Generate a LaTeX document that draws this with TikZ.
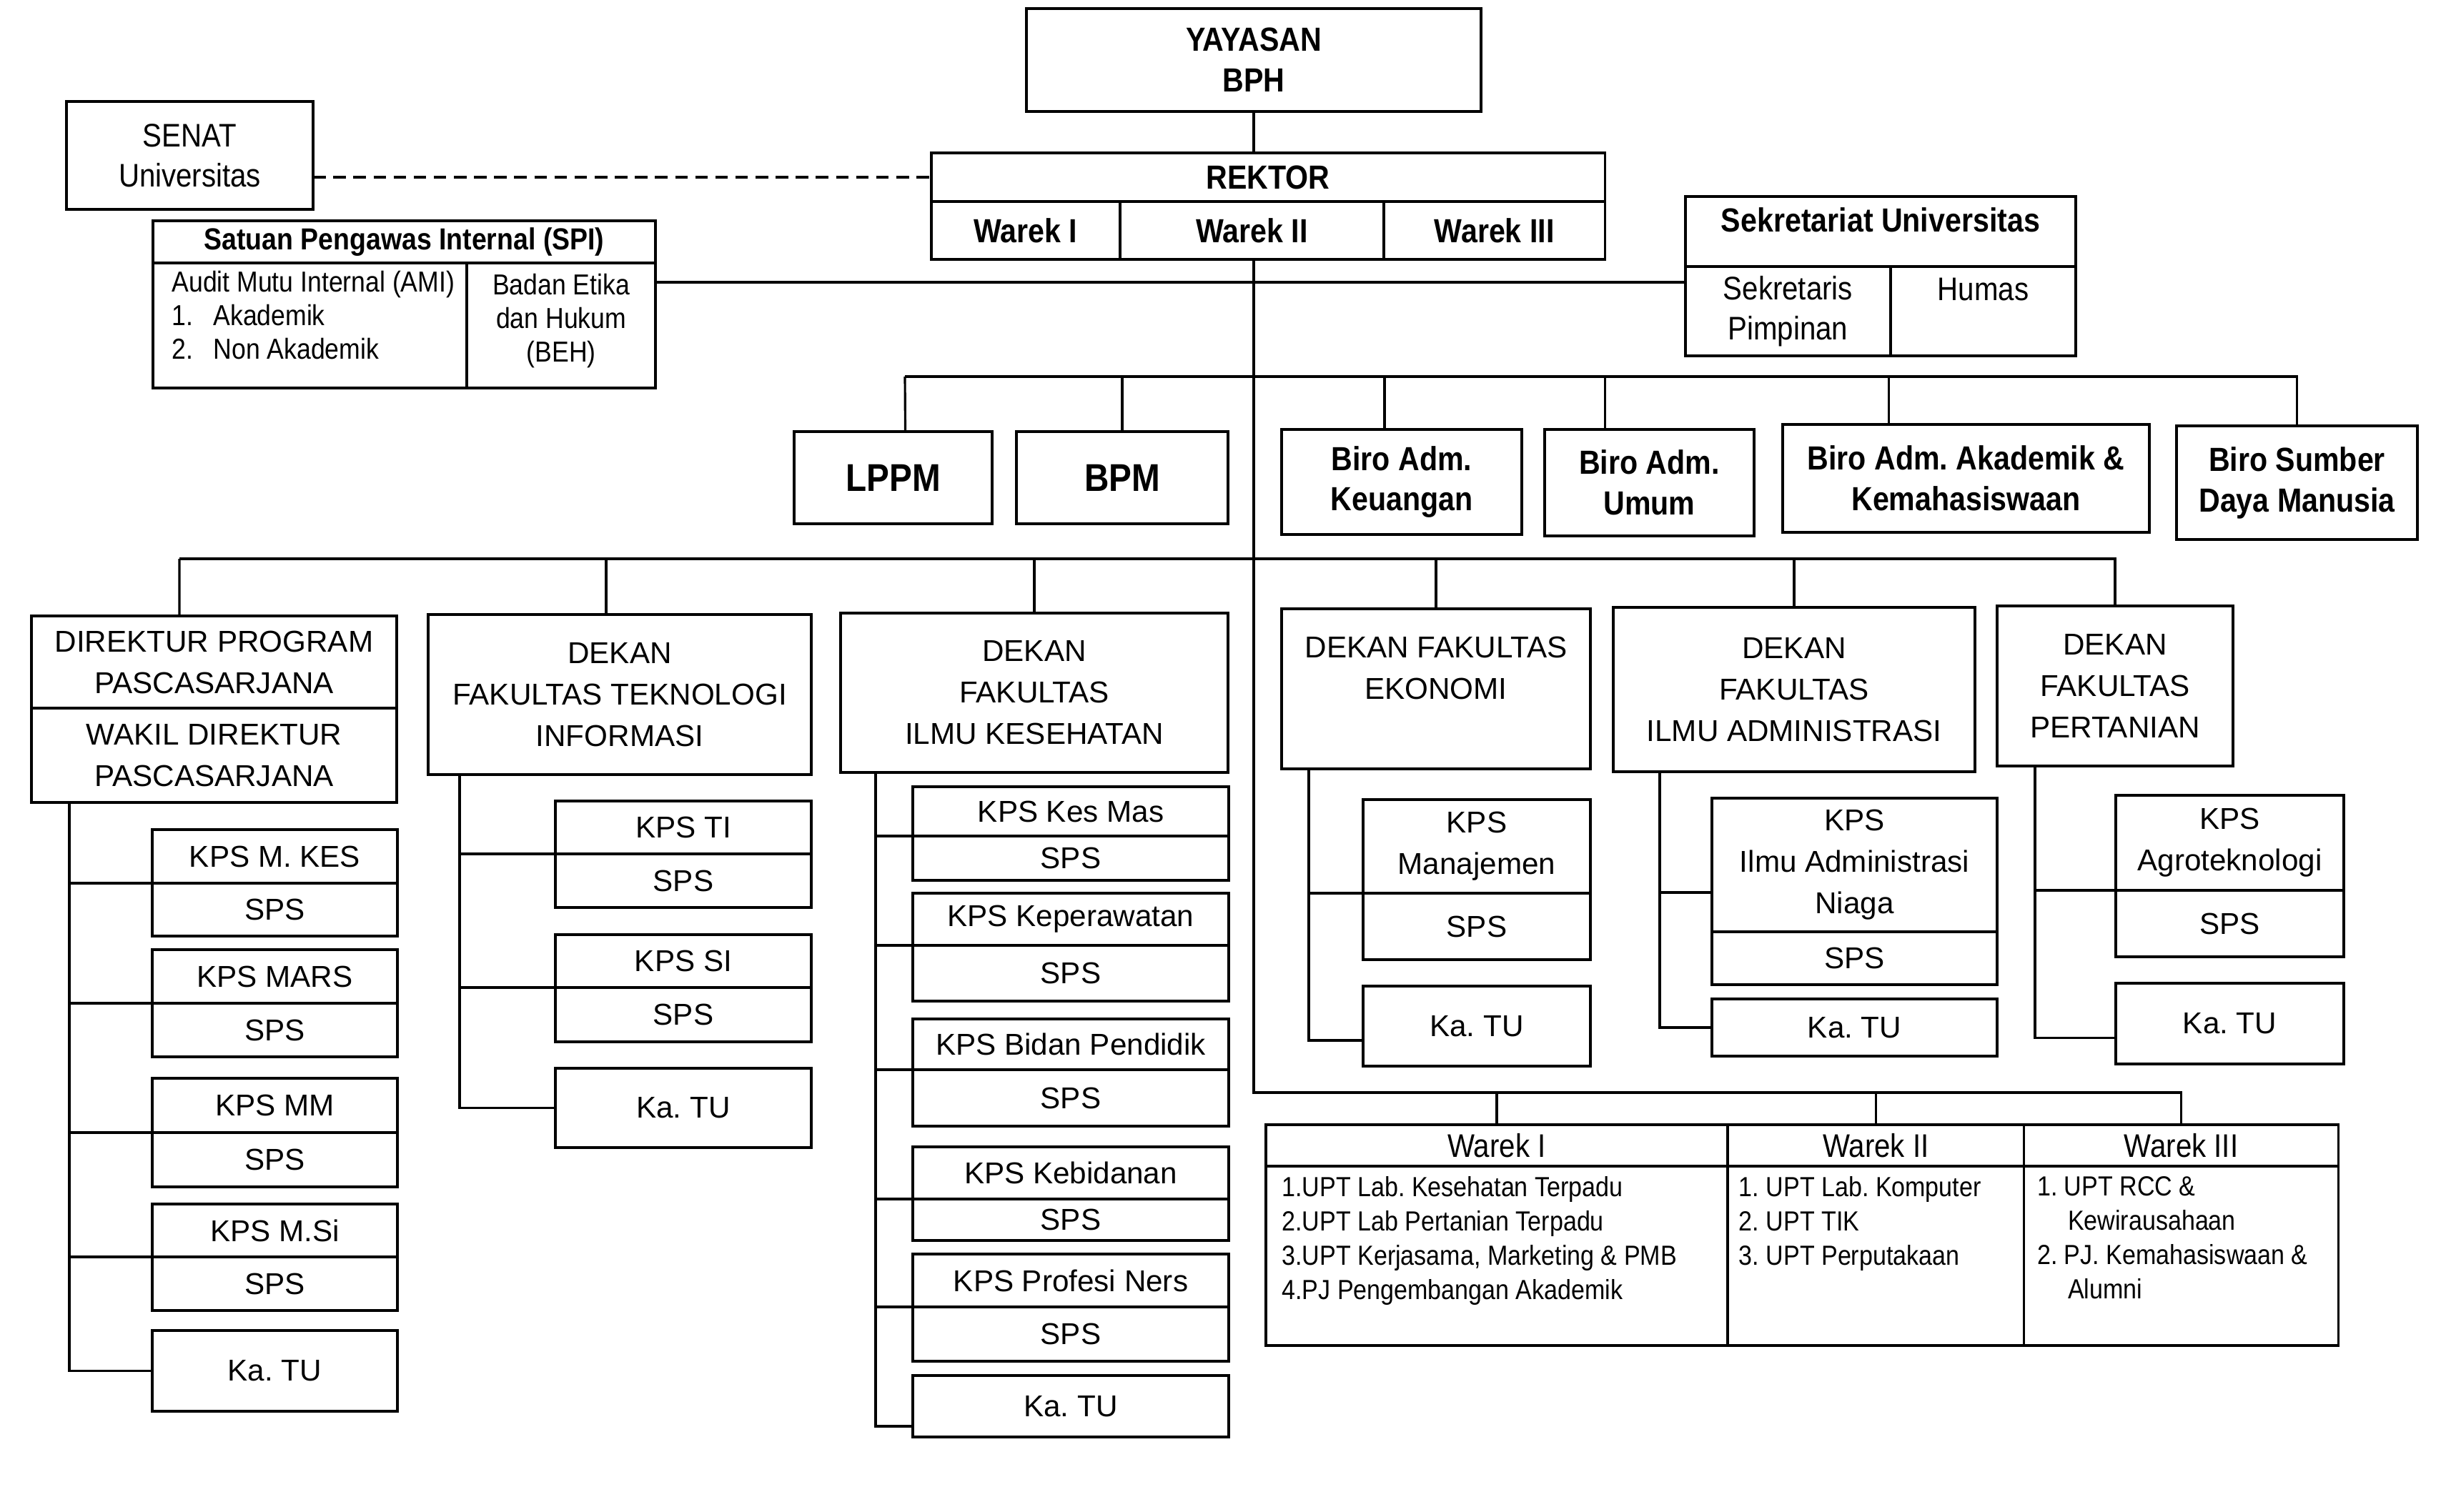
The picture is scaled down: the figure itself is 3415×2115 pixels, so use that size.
\documentclass[tikz,border=0pt]{standalone}
\usepackage{fontspec}
\setmainfont{Liberation Sans}
\newfontfamily\narrowfont[FakeStretch=0.88]{Liberation Sans}
\usepackage{tikz}
\usetikzlibrary{positioning}
\frenchspacing

\begin{document}
\begin{tikzpicture}[x=0.01cm, y=-0.01cm,
        box/.style={draw, line width=1pt, inner sep=0pt, outer sep=0pt, align=center},
        conn/.style={line width=0.9pt},
        headtxt/.style={font=\narrowfont\bfseries\fontsize{13.3}{16.2}\selectfont},
        bigtxt/.style={font=\narrowfont\bfseries\fontsize{15.4}{18}\selectfont},
        narrowtxt/.style={font=\narrowfont\fontsize{13}{16}\selectfont},
        smalltxt/.style={font=\narrowfont\fontsize{11.5}{13.5}\selectfont, inner sep=0pt},
        listtxt/.style={font=\narrowfont\fontsize{11}{13.6}\selectfont, align=left, inner sep=0pt},
        fak/.style={font=\fontsize{12}{16.5}\selectfont},
        wpas/.style={box, fak, minimum width=3.43cm},
        wfti/.style={box, fak, minimum width=3.58cm},
        wfik/.style={box, fak, minimum width=4.42cm},
        wfe/.style={box, fak, minimum width=3.18cm},
        wfia/.style={box, fak, minimum width=3.99cm},
        wfp/.style={box, fak, minimum width=3.19cm}]
        \useasboundingbox (0,0) rectangle (3415,2115);

        \node[box, headtxt, minimum width=6.36cm, minimum height=1.44cm] (yay) at (1754,84) {YAYASAN\\BPH};
        \node[box, narrowtxt, minimum width=3.45cm, minimum height=1.51cm] (senat) at (265.5,217.5) {SENAT\\Universitas};
        \node[box, headtxt, minimum width=9.42cm, minimum height=0.68cm] (rek) at (1774,248) {REKTOR};
        \node[box, headtxt, minimum width=2.64cm, minimum height=0.81cm, anchor=north west] (wr1) at (rek.south west) {Warek I};
        \node[box, headtxt, minimum width=3.69cm, minimum height=0.81cm, right=0pt of wr1] (wr2) {Warek II};
        \node[box, headtxt, minimum width=3.09cm, minimum height=0.81cm, right=0pt of wr2] (wr3) {Warek III};

        \node[box, font=\narrowfont\bfseries\fontsize{12.1}{14}\selectfont, minimum width=7.03cm, minimum height=0.59cm] (spi) at (565.5,338.5) {Satuan Pengawas Internal (SPI)};
        \node[box, minimum width=4.39cm, minimum height=1.75cm, anchor=north west] (ami) at (spi.south west) {};
        \node[box, minimum width=2.64cm, minimum height=1.75cm, right=0pt of ami] (beh) {};
        \node[smalltxt, align=left, anchor=north west] (amitxt) at ([xshift=0.26cm, yshift=-0.1cm]ami.north west)
          {Audit Mutu Internal (AMI)\\\makebox[0.58cm][l]{1.}Akademik\\\makebox[0.58cm][l]{2.}Non Akademik};
        \node[smalltxt, align=center, anchor=north] (behtxt) at ([yshift=-0.14cm]beh.north) {Badan Etika\\dan Hukum\\(BEH)};

        \node[box, minimum width=5.46cm, minimum height=0.98cm] (sekr) at (2631,324) {};
        \node[headtxt, anchor=north, inner sep=0pt] (sekrtxt) at ([yshift=-0.15cm]sekr.north) {Sekretariat Universitas};
        \node[box, narrowtxt, minimum width=2.87cm, minimum height=1.25cm, anchor=north west] (sekp) at (sekr.south west) {Sekretaris\\Pimpinan};
        \node[box, minimum width=2.59cm, minimum height=1.25cm, right=0pt of sekp] (humas) {};
        \node[narrowtxt, anchor=north, inner sep=0pt] (humastxt) at ([yshift=-0.15cm]humas.north) {Humas};

        \draw[conn] (yay.south) -- (yay.south |- rek.north);
        \draw[conn, dash pattern=on 5pt off 3pt] (senat.east |- rek.west) -- (rek.west);
        \coordinate (spiout) at ([yshift=-0.27cm]beh.north east);
        \draw[conn] (spiout) -- (spiout -| sekp.west);

        \node[box, bigtxt, minimum width=2.77cm, minimum height=1.29cm] (lppm) at (1249.5,668.5) {LPPM};
        \node[box, bigtxt, minimum width=2.96cm, minimum height=1.29cm] (bpm) at (1570,668.5) {BPM};
        \node[box, headtxt, minimum width=3.36cm, minimum height=1.47cm] (keu) at (1961,674.5) {Biro Adm.\\Keuangan};
        \node[box, headtxt, minimum width=2.93cm, minimum height=1.49cm] (umum) at (2307.5,675.5) {Biro Adm.\\Umum};
        \node[box, headtxt, minimum width=5.13cm, minimum height=1.51cm] (akad) at (2750.5,669.5) {Biro Adm. Akademik \&\\Kemahasiswaan};
        \node[box, headtxt, minimum width=3.37cm, minimum height=1.59cm] (sdm) at (3213.5,675.5) {Biro Sumber\\Daya Manusia};

        \coordinate (bbus) at (1266,527);
        \draw[conn] ([xshift=0.17cm]lppm.north) -- (bbus);
        \draw[conn] (sdm.north) |- (bbus);
        \draw[conn] (bpm.north) |- (bbus);
        \draw[conn] ([xshift=-0.24cm]keu.north) |- (bbus);
        \draw[conn] ([xshift=-0.62cm]umum.north) |- (bbus);
        \draw[conn] ([xshift=-1.08cm]akad.north) |- (bbus);

        \node[box, fak, minimum width=5.11cm, minimum height=1.29cm] (pas1) at (299.5,926.5) {DIREKTUR PROGRAM\\PASCASARJANA};
        \node[box, fak, minimum width=5.11cm, minimum height=1.32cm, below=0pt of pas1] (pas2) {WAKIL DIREKTUR\\PASCASARJANA};
        \node[box, fak, minimum width=5.36cm, minimum height=2.24cm] (fti) at (867,972) {DEKAN\\FAKULTAS TEKNOLOGI\\INFORMASI};
        \node[box, fak, minimum width=5.42cm, minimum height=2.23cm] (fik) at (1447,969.5) {DEKAN\\FAKULTAS\\ILMU KESEHATAN};
        \node[box, fak, minimum width=4.32cm, minimum height=2.24cm] (fe) at (2009,964) {DEKAN FAKULTAS\\EKONOMI\\~};
        \node[box, fak, minimum width=5.06cm, minimum height=2.30cm] (fia) at (2510,965) {DEKAN\\FAKULTAS\\ILMU ADMINISTRASI};
        \node[box, fak, minimum width=3.30cm, minimum height=2.24cm] (fp) at (2959,960) {DEKAN\\FAKULTAS\\PERTANIAN};

        \coordinate (fbus) at (251,782);
        \draw[conn] ([xshift=-0.485cm]pas1.north) -- (fbus);
        \draw[conn] (fp.north) |- (fbus);
        \draw[conn] ([xshift=-0.19cm]fti.north) |- (fbus);
        \draw[conn] (fik.north) |- (fbus);
        \draw[conn] (fe.north) |- (fbus);
        \draw[conn] (fia.north) |- (fbus);

        \node[wpas, minimum height=0.75cm] (mkes) at (384.5,1198.5) {KPS M. KES};
        \node[wpas, minimum height=0.74cm, below=0pt of mkes] (mkess) {SPS};
        \node[wpas, minimum height=0.75cm] (mars) at (384.5,1366.5) {KPS MARS};
        \node[wpas, minimum height=0.75cm, below=0pt of mars] (marss) {SPS};
        \node[wpas, minimum height=0.76cm] (mm) at (384.5,1547) {KPS MM};
        \node[wpas, minimum height=0.76cm, below=0pt of mm] (mms) {SPS};
        \node[wpas, minimum height=0.74cm] (msi) at (384.5,1722) {KPS M.Si};
        \node[wpas, minimum height=0.75cm, below=0pt of msi] (msis) {SPS};
        \node[wpas, minimum height=1.13cm] (pastu) at (384.5,1918.5) {Ka. TU};
        \coordinate (pasL) at (97,1123);
        \draw[conn] (pasL) |- (pastu.west);
        \draw[conn] (pasL |- mkes.south west) -- (mkes.south west);
        \draw[conn] (pasL |- mars.south west) -- (mars.south west);
        \draw[conn] (pasL |- mm.south west) -- (mm.south west);
        \draw[conn] (pasL |- msi.south west) -- (msi.south west);

        \node[wfti, minimum height=0.74cm] (ti) at (956,1158) {KPS TI};
        \node[wfti, minimum height=0.75cm, below=0pt of ti] (tis) {SPS};
        \node[wfti, minimum height=0.74cm] (si) at (956,1345) {KPS SI};
        \node[wfti, minimum height=0.76cm, below=0pt of si] (sis) {SPS};
        \node[wfti, minimum height=1.11cm] (ftitu) at (956,1550.5) {Ka. TU};
        \coordinate (ftiL) at (643,1084);
        \draw[conn] (ftiL) |- (ftitu.west);
        \draw[conn] (ftiL |- ti.south west) -- (ti.south west);
        \draw[conn] (ftiL |- si.south west) -- (si.south west);

        \node[wfik, minimum height=0.69cm] (kesmas) at (1498,1135.5) {KPS Kes Mas};
        \node[wfik, minimum height=0.62cm, below=0pt of kesmas] (kesmass) {SPS};
        \node[wfik, minimum height=0.73cm] (kep) at (1498,1286.5) {KPS Keperawatan};
        \node[wfik, minimum height=0.78cm, below=0pt of kep] (keps) {SPS};
        \node[wfik, minimum height=0.71cm] (bidan) at (1498,1461.5) {KPS Bidan Pendidik};
        \node[wfik, minimum height=0.79cm, below=0pt of bidan] (bidans) {SPS};
        \node[wfik, minimum height=0.73cm] (keb) at (1498,1641.5) {KPS Kebidanan};
        \node[wfik, minimum height=0.58cm, below=0pt of keb] (kebs) {SPS};
        \node[wfik, minimum height=0.74cm] (ners) at (1498,1792) {KPS Profesi Ners};
        \node[wfik, minimum height=0.76cm, below=0pt of ners] (nerss) {SPS};
        \node[wfik, minimum height=0.86cm] (fiktu) at (1498,1968) {Ka. TU};
        \coordinate (fikL) at (1225,1081);
        \coordinate (fiktub) at ([yshift=-0.28cm]fiktu.west);
        \draw[conn] (fikL) |- (fiktub);
        \draw[conn] (fikL |- kesmas.south west) -- (kesmas.south west);
        \draw[conn] (fikL |- kep.south west) -- (kep.south west);
        \draw[conn] (fikL |- bidan.south west) -- (bidan.south west);
        \draw[conn] (fikL |- keb.south west) -- (keb.south west);
        \draw[conn] (fikL |- ners.south west) -- (ners.south west);

        \node[wfe, minimum height=1.31cm] (man) at (2066,1184.5) {KPS\\Manajemen};
        \node[wfe, minimum height=0.93cm, below=0pt of man] (mans) {SPS};
        \node[wfe, minimum height=1.12cm] (fetu) at (2066,1436) {Ka. TU};
        \coordinate (feL) at (1831,1076);
        \coordinate (fetub) at ([yshift=-0.2cm]fetu.west);
        \draw[conn] (feL) |- (fetub);
        \draw[conn] (feL |- man.south west) -- (man.south west);

        \node[wfia, minimum height=1.87cm] (ian) at (2594.5,1210.5) {KPS\\Ilmu Administrasi\\Niaga};
        \node[wfia, minimum height=0.74cm, below=0pt of ian] (ians) {SPS};
        \node[wfia, minimum height=0.80cm] (fiatu) at (2594.5,1438) {Ka. TU};
        \coordinate (fiaL) at (2322,1080);
        \coordinate (ianb) at ([yshift=0.55cm]ian.south west);
        \draw[conn] (fiaL) |- (fiatu.west);
        \draw[conn] (fiaL |- ianb) -- (ianb);

        \node[wfp, minimum height=1.33cm] (agro) at (3119.5,1179.5) {KPS\\Agroteknologi};
        \node[wfp, minimum height=0.93cm, below=0pt of agro] (agros) {SPS};
        \node[wfp, minimum height=1.13cm] (fptu) at (3119.5,1432.5) {Ka. TU};
        \coordinate (fpL) at (2847,1072);
        \coordinate (fptub) at ([yshift=-0.2cm]fptu.west);
        \draw[conn] (fpL) |- (fptub);
        \draw[conn] (fpL |- agro.south west) -- (agro.south west);

        \node[box, narrowtxt, minimum width=6.46cm, minimum height=0.58cm] (wk1h) at (2094,1603) {Warek I};
        \node[box, narrowtxt, minimum width=4.14cm, minimum height=0.58cm, right=0pt of wk1h] (wk2h) {Warek II};
        \node[box, narrowtxt, minimum width=4.40cm, minimum height=0.58cm, right=0pt of wk2h] (wk3h) {Warek III};
        \node[box, minimum width=6.46cm, minimum height=2.51cm, below=0pt of wk1h] (wk1) {};
        \node[box, minimum width=4.14cm, minimum height=2.51cm, below=0pt of wk2h] (wk2) {};
        \node[box, minimum width=4.40cm, minimum height=2.51cm, below=0pt of wk3h] (wk3) {};
        \node[listtxt, anchor=north west] (wk1txt) at ([xshift=0.22cm, yshift=-0.14cm]wk1.north west)
          {1.UPT Lab. Kesehatan Terpadu\\2.UPT Lab Pertanian Terpadu\\3.UPT Kerjasama, Marketing \& PMB\\4.PJ Pengembangan Akademik};
        \node[listtxt, anchor=north west] (wk2txt) at ([xshift=0.15cm, yshift=-0.14cm]wk2.north west)
          {1. UPT Lab. Komputer\\2. UPT TIK\\3. UPT Perputakaan};
        \node[listtxt, anchor=north west] (wk3txt) at ([xshift=0.18cm, yshift=-0.14cm]wk3.north west)
          {1. UPT RCC \&\\\hspace*{0.43cm}Kewirausahaan\\2. PJ. Kemahasiswaan \&\\\hspace*{0.43cm}Alumni};

        \coordinate (wbus) at (1754,1529);
        \draw[conn] (yay.south |- wr2.south) -- (wbus) -| (wk3h.north);
        \draw[conn] (wk1h.north) |- (wbus);
        \draw[conn] (wk2h.north) |- (wbus);
      \end{tikzpicture}
\end{document}
